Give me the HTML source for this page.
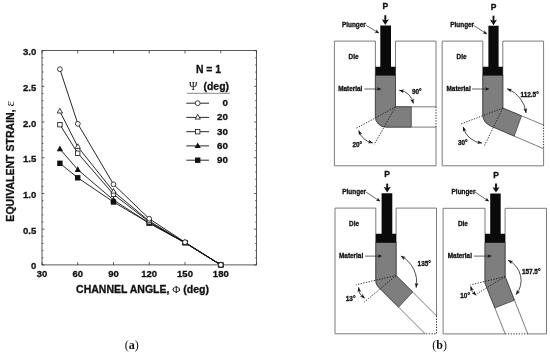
<!DOCTYPE html><html><head><meta charset="utf-8"><title>Figure</title><style>html,body{margin:0;padding:0;background:#fff}svg{display:block}text{font-family:"Liberation Sans",Arial,Helvetica,sans-serif;font-weight:bold;fill:#111;stroke:#111;stroke-width:0.3px}.s{stroke:none;font-family:"Liberation Serif","Times New Roman",serif;font-weight:normal}</style></head><body>
<svg width="550" height="355" viewBox="0 0 550 355">
<rect width="550" height="355" fill="#fff"/>
<g id="plot" stroke="#333" stroke-width="0.8" fill="none">
<rect x="42.0" y="50.6" width="214.5" height="214.3"/>
<path d="M42.0 264.90h2.4M256.5 264.90h-2.4M42.0 257.76h1.3M256.5 257.76h-1.3M42.0 250.61h1.3M256.5 250.61h-1.3M42.0 243.47h1.3M256.5 243.47h-1.3M42.0 236.33h1.3M256.5 236.33h-1.3M42.0 229.18h2.4M256.5 229.18h-2.4M42.0 222.04h1.3M256.5 222.04h-1.3M42.0 214.90h1.3M256.5 214.90h-1.3M42.0 207.75h1.3M256.5 207.75h-1.3M42.0 200.61h1.3M256.5 200.61h-1.3M42.0 193.47h2.4M256.5 193.47h-2.4M42.0 186.32h1.3M256.5 186.32h-1.3M42.0 179.18h1.3M256.5 179.18h-1.3M42.0 172.04h1.3M256.5 172.04h-1.3M42.0 164.89h1.3M256.5 164.89h-1.3M42.0 157.75h2.4M256.5 157.75h-2.4M42.0 150.61h1.3M256.5 150.61h-1.3M42.0 143.46h1.3M256.5 143.46h-1.3M42.0 136.32h1.3M256.5 136.32h-1.3M42.0 129.18h1.3M256.5 129.18h-1.3M42.0 122.03h2.4M256.5 122.03h-2.4M42.0 114.89h1.3M256.5 114.89h-1.3M42.0 107.75h1.3M256.5 107.75h-1.3M42.0 100.60h1.3M256.5 100.60h-1.3M42.0 93.46h1.3M256.5 93.46h-1.3M42.0 86.32h2.4M256.5 86.32h-2.4M42.0 79.17h1.3M256.5 79.17h-1.3M42.0 72.03h1.3M256.5 72.03h-1.3M42.0 64.89h1.3M256.5 64.89h-1.3M42.0 57.74h1.3M256.5 57.74h-1.3M42.0 50.60h2.4M256.5 50.60h-2.4M42.00 264.9v-2.8M42.00 50.6v2.8M77.75 264.9v-2.8M77.75 50.6v2.8M113.50 264.9v-2.8M113.50 50.6v2.8M149.25 264.9v-2.8M149.25 50.6v2.8M185.00 264.9v-2.8M185.00 50.6v2.8M220.75 264.9v-2.8M220.75 50.6v2.8M256.50 264.9v-2.8M256.50 50.6v2.8" stroke-width="0.8"/>
</g>
<text x="36.2" y="269.4" font-size="9.5" text-anchor="end">0</text>
<text x="36.2" y="233.7" font-size="9.5" text-anchor="end">0.5</text>
<text x="36.2" y="198.0" font-size="9.5" text-anchor="end">1.0</text>
<text x="36.2" y="162.2" font-size="9.5" text-anchor="end">1.5</text>
<text x="36.2" y="126.5" font-size="9.5" text-anchor="end">2.0</text>
<text x="36.2" y="90.8" font-size="9.5" text-anchor="end">2.5</text>
<text x="36.2" y="55.1" font-size="9.5" text-anchor="end">3.0</text>
<text x="42.0" y="277.3" font-size="9.5" text-anchor="middle">30</text>
<text x="77.8" y="277.3" font-size="9.5" text-anchor="middle">60</text>
<text x="113.5" y="277.3" font-size="9.5" text-anchor="middle">90</text>
<text x="149.2" y="277.3" font-size="9.5" text-anchor="middle">120</text>
<text x="185.0" y="277.3" font-size="9.5" text-anchor="middle">150</text>
<text x="220.8" y="277.3" font-size="9.5" text-anchor="middle">180</text>
<text x="142.5" y="292.6" font-size="10.5" text-anchor="middle">CHANNEL ANGLE, <tspan class="s" font-size="11">Φ</tspan> (deg)</text>
<text transform="translate(14.3 161.3) rotate(-90)" font-size="10.55" text-anchor="middle">EQUIVALENT STRAIN, <tspan class="s" font-size="13" font-weight="bold">ε</tspan></text>
<polyline fill="none" stroke="#111" stroke-width="0.9" points="59.9,163.3 77.8,177.8 113.5,202.0 149.2,223.1 185.0,242.7 220.8,264.9"/>
<rect x="57.2" y="160.6" width="5.4" height="5.4" fill="#111"/>
<rect x="75.0" y="175.1" width="5.4" height="5.4" fill="#111"/>
<rect x="110.8" y="199.3" width="5.4" height="5.4" fill="#111"/>
<rect x="146.6" y="220.4" width="5.4" height="5.4" fill="#111"/>
<rect x="182.3" y="240.0" width="5.4" height="5.4" fill="#111"/>
<rect x="218.1" y="262.2" width="5.4" height="5.4" fill="#111"/>
<polyline fill="none" stroke="#111" stroke-width="0.9" points="59.9,149.0 77.8,169.7 113.5,200.0 149.2,223.1 185.0,242.7 220.8,264.9"/>
<path d="M59.9 145.6l3.1 5.6h-6.2z" fill="#111"/>
<path d="M77.8 166.3l3.1 5.6h-6.2z" fill="#111"/>
<path d="M113.5 196.6l3.1 5.6h-6.2z" fill="#111"/>
<path d="M149.2 219.7l3.1 5.6h-6.2z" fill="#111"/>
<path d="M185.0 239.3l3.1 5.6h-6.2z" fill="#111"/>
<path d="M220.8 261.5l3.1 5.6h-6.2z" fill="#111"/>
<polyline fill="none" stroke="#111" stroke-width="0.9" points="59.9,124.7 77.8,153.2 113.5,194.3 149.2,221.9 185.0,242.7 220.8,264.9"/>
<rect x="57.7" y="122.5" width="4.4" height="4.4" fill="#fff" stroke="#111" stroke-width="0.8"/>
<rect x="75.5" y="151.0" width="4.4" height="4.4" fill="#fff" stroke="#111" stroke-width="0.8"/>
<rect x="111.3" y="192.1" width="4.4" height="4.4" fill="#fff" stroke="#111" stroke-width="0.8"/>
<rect x="147.1" y="219.7" width="4.4" height="4.4" fill="#fff" stroke="#111" stroke-width="0.8"/>
<rect x="182.8" y="240.5" width="4.4" height="4.4" fill="#fff" stroke="#111" stroke-width="0.8"/>
<rect x="218.6" y="262.7" width="4.4" height="4.4" fill="#fff" stroke="#111" stroke-width="0.8"/>
<polyline fill="none" stroke="#111" stroke-width="0.9" points="59.9,111.3 77.8,146.8 113.5,191.5 149.2,221.0 185.0,242.7 220.8,264.9"/>
<path d="M59.9 108.3l2.6 4.7h-5.2z" fill="#fff" stroke="#111" stroke-width="0.8"/>
<path d="M77.8 143.8l2.6 4.7h-5.2z" fill="#fff" stroke="#111" stroke-width="0.8"/>
<path d="M113.5 188.5l2.6 4.7h-5.2z" fill="#fff" stroke="#111" stroke-width="0.8"/>
<path d="M149.2 218.0l2.6 4.7h-5.2z" fill="#fff" stroke="#111" stroke-width="0.8"/>
<path d="M185.0 239.7l2.6 4.7h-5.2z" fill="#fff" stroke="#111" stroke-width="0.8"/>
<path d="M220.8 261.9l2.6 4.7h-5.2z" fill="#fff" stroke="#111" stroke-width="0.8"/>
<polyline fill="none" stroke="#111" stroke-width="0.9" points="59.9,69.2 77.8,123.8 113.5,184.3 149.2,218.7 185.0,242.2 220.8,264.9"/>
<circle cx="59.9" cy="69.2" r="2.4" fill="#fff" stroke="#111" stroke-width="0.8"/>
<circle cx="77.8" cy="123.8" r="2.4" fill="#fff" stroke="#111" stroke-width="0.8"/>
<circle cx="113.5" cy="184.3" r="2.4" fill="#fff" stroke="#111" stroke-width="0.8"/>
<circle cx="149.2" cy="218.7" r="2.4" fill="#fff" stroke="#111" stroke-width="0.8"/>
<circle cx="185.0" cy="242.2" r="2.4" fill="#fff" stroke="#111" stroke-width="0.8"/>
<circle cx="220.8" cy="264.9" r="2.4" fill="#fff" stroke="#111" stroke-width="0.8"/>
<text x="208.5" y="73.2" font-size="10.4" text-anchor="middle">N = 1</text>
<text x="209" y="89.6" font-size="10.4" text-anchor="middle"><tspan class="s" font-size="11.5" font-weight="bold">Ψ</tspan><tspan dx="6">(deg)</tspan></text>
<path d="M186.8 93.3H230" stroke="#888" stroke-width="1"/>
<path d="M186.3 103.2H209" stroke="#111" stroke-width="0.9"/>
<circle cx="197.7" cy="103.2" r="2.4" fill="#fff" stroke="#111" stroke-width="0.8"/>
<text x="228" y="106.2" font-size="9.8" text-anchor="end">0</text>
<path d="M186.3 117.4H209" stroke="#111" stroke-width="0.9"/>
<path d="M197.7 114.4l2.6 4.7h-5.2z" fill="#fff" stroke="#111" stroke-width="0.8"/>
<text x="228" y="120.4" font-size="9.8" text-anchor="end">20</text>
<path d="M186.3 131.7H209" stroke="#111" stroke-width="0.9"/>
<rect x="195.5" y="129.5" width="4.4" height="4.4" fill="#fff" stroke="#111" stroke-width="0.8"/>
<text x="228" y="134.7" font-size="9.8" text-anchor="end">30</text>
<path d="M186.3 145.9H209" stroke="#111" stroke-width="0.9"/>
<path d="M197.7 142.5l3.1 5.6h-6.2z" fill="#111"/>
<text x="228" y="148.9" font-size="9.8" text-anchor="end">60</text>
<path d="M186.3 160.2H209" stroke="#111" stroke-width="0.9"/>
<rect x="195.0" y="157.5" width="5.4" height="5.4" fill="#111"/>
<text x="228" y="163.2" font-size="9.8" text-anchor="end">90</text>
<text class="s" x="131.7" y="348.7" font-size="12" text-anchor="middle">(<tspan font-weight="bold">a</tspan>)</text>
<text class="s" x="439.7" y="348.5" font-size="12" text-anchor="middle">(<tspan font-weight="bold">b</tspan>)</text>
<path d="M375.4 41.1H334.4V165.8H436.0V127.1H385.9A10.5 10.5 0 0 1 375.4 116.6z" fill="none" stroke="#5a5a5a" stroke-width="0.8" stroke-linejoin="miter"/>
<path d="M395.5 41.1H436.0V106.8H395.5z" fill="none" stroke="#5a5a5a" stroke-width="0.8" stroke-linejoin="miter"/>
<path d="M375.4 75H395.5V106.8H411.3V127.1H385.9A10.5 10.5 0 0 1 375.4 116.6z" fill="#7e7e7e" stroke="#333" stroke-width="0.7"/>
<path d="M380.3 25.5H391V66.8H395.5V75.5H375.4V66.8H380.3z" fill="#0a0a0a"/>
<path d="M436.0 106.8V127.1" fill="none" stroke="#1a1a1a" stroke-width="0.9" stroke-dasharray="1.3 1.4"/>
<path d="M395.5 106.8L356.5 128.2M395.5 106.8L374.1 144.6" fill="none" stroke="#1a1a1a" stroke-width="0.9" stroke-dasharray="1.3 1.4"/>
<text x="385.3" y="9.2" font-size="8.5" text-anchor="middle">P</text><path d="M385.3 15.2V22.3" stroke="#111" stroke-width="1.9"/><path d="M385.3 24.900000000000002l-3.6 -5.6l3.6 1.3l3.6 -1.3z" fill="#111"/>
<text x="342" y="26.8" font-size="6.4" text-anchor="start">Plunger</text>
<path d="M365.8 25.2L377.6 32.2" stroke="#222" stroke-width="0.7"/><path d="M379.3 33.2L374.4 32.4L376.5 31.5L376.3 29.3z" fill="#111"/>
<text x="348.6" y="59.0" font-size="6.4" text-anchor="start">Die</text>
<text x="338.2" y="91.4" font-size="6.4" text-anchor="start">Material</text>
<path d="M364.3 89L379.5 89.0" stroke="#222" stroke-width="0.7"/><path d="M381.5 89.0L376.9 90.8L378.2 89.0L376.9 87.2z" fill="#111"/>
<text x="352.4" y="146.7" font-size="6.4" text-anchor="start">20°</text>
<text x="412" y="94.2" font-size="6.4" text-anchor="start">90°</text>
<path d="M358.6 130.4A19.0 19.0 0 0 0 372.8 143.1" fill="none" stroke="#222" stroke-width="0.8"/><path d="M358.6 130.4L362.4 133.9L360.1 133.5L358.9 135.6z" fill="#111"/><path d="M372.8 143.1L367.6 143.3L369.5 142.0L368.9 139.7z" fill="#111"/>
<path d="M399.2 90.2A15.8 15.8 0 0 1 413.4 103.5" fill="none" stroke="#222" stroke-width="0.8"/><path d="M399.2 90.2L404.3 89.5L402.6 91.0L403.4 93.2z" fill="#111"/><path d="M413.4 103.5L410.1 99.5L412.4 100.2L413.8 98.4z" fill="#111"/>
<path d="M482.8 41.1H442.2V165.8H543.6V148.7L491 126.1Q482.8 122.6 482.8 114.4z" fill="none" stroke="#5a5a5a" stroke-width="0.8" stroke-linejoin="miter"/>
<path d="M502.8 41.1H543.6V125.0L502.8 108.1z" fill="none" stroke="#5a5a5a" stroke-width="0.8" stroke-linejoin="miter"/>
<path d="M482.8 75H502.8V108.1L521.5 115.8L514.2 136.1L491 126.1Q482.8 122.6 482.8 114.4z" fill="#7e7e7e" stroke="#333" stroke-width="0.7"/>
<path d="M488.4 25.8H498.6V66.8H502.8V75.5H482.8V66.8H488.4z" fill="#0a0a0a"/>
<path d="M543.6 125.0V148.7" fill="none" stroke="#1a1a1a" stroke-width="0.9" stroke-dasharray="1.3 1.4"/>
<path d="M502.8 108.1L460.8 124M502.8 108.1L484.5 145.5" fill="none" stroke="#1a1a1a" stroke-width="0.9" stroke-dasharray="1.3 1.4"/>
<text x="493.5" y="10.2" font-size="8.5" text-anchor="middle">P</text><path d="M493.5 15.7V22.6" stroke="#111" stroke-width="1.9"/><path d="M493.5 25.200000000000003l-3.6 -5.6l3.6 1.3l3.6 -1.3z" fill="#111"/>
<text x="450.3" y="26.8" font-size="6.4" text-anchor="start">Plunger</text>
<path d="M473.3 25.2L485.6 33.2" stroke="#222" stroke-width="0.7"/><path d="M487.3 34.3L482.5 33.3L484.5 32.5L484.4 30.3z" fill="#111"/>
<text x="456.6" y="59.0" font-size="6.4" text-anchor="start">Die</text>
<text x="446.5" y="91.4" font-size="6.4" text-anchor="start">Material</text>
<path d="M472 89L487.6 89.0" stroke="#222" stroke-width="0.7"/><path d="M489.6 89.0L485.0 90.8L486.3 89.0L485.0 87.2z" fill="#111"/>
<text x="458" y="145.2" font-size="6.4" text-anchor="start">30°</text>
<text x="520.5" y="96.6" font-size="6.4" text-anchor="start">112.5°</text>
<path d="M463.1 126.8A20.8 20.8 0 0 0 482.1 143.1" fill="none" stroke="#222" stroke-width="0.8"/><path d="M463.1 126.8L466.5 130.7L464.2 130.1L462.9 132.0z" fill="#111"/><path d="M482.1 143.1L477.0 144.1L478.7 142.5L477.7 140.4z" fill="#111"/>
<path d="M507.1 88.7A29.2 29.2 0 0 1 526.1 113.0" fill="none" stroke="#222" stroke-width="0.8"/><path d="M507.1 88.7L512.3 89.0L510.2 90.1L510.7 92.4z" fill="#111"/><path d="M526.1 113.0L523.3 108.6L525.5 109.6L527.1 107.9z" fill="#111"/>
<path d="M375.8 208.1H335.0V333.8H425.2L378.2 286.8Q375.8 284.4 375.8 280.5z" fill="none" stroke="#5a5a5a" stroke-width="0.8" stroke-linejoin="miter"/>
<path d="M396.1 208.1H436.5V315.9L396.1 275.5z" fill="none" stroke="#5a5a5a" stroke-width="0.8" stroke-linejoin="miter"/>
<path d="M375.8 242.3H396.1V275.5L412.6 292.0L398.6 307.2L378.2 286.8Q375.8 284.4 375.8 280.5z" fill="#7e7e7e" stroke="#333" stroke-width="0.7"/>
<path d="M381.6 193.2H392.3V233.8H396.1V242.7H375.8V233.8H381.6z" fill="#0a0a0a"/>
<path d="M436.5 315.9V333.8H425.2" fill="none" stroke="#1a1a1a" stroke-width="0.9" stroke-dasharray="1.3 1.4"/>
<path d="M396.1 275.5L355.8 284.8M396.1 275.5L364.3 302.1" fill="none" stroke="#1a1a1a" stroke-width="0.9" stroke-dasharray="1.3 1.4"/>
<text x="387.2" y="177.2" font-size="8.5" text-anchor="middle">P</text><path d="M387.2 183.6V189.8" stroke="#111" stroke-width="1.9"/><path d="M387.2 192.4l-3.6 -5.6l3.6 1.3l3.6 -1.3z" fill="#111"/>
<text x="342.3" y="193.7" font-size="6.4" text-anchor="start">Plunger</text>
<path d="M366 192L378.8 200.5" stroke="#222" stroke-width="0.7"/><path d="M380.5 201.6L375.7 200.6L377.7 199.8L377.7 197.6z" fill="#111"/>
<text x="349.1" y="225.8" font-size="6.4" text-anchor="start">Die</text>
<text x="339" y="258" font-size="6.4" text-anchor="start">Material</text>
<path d="M365 256.1L380.3 256.1" stroke="#222" stroke-width="0.7"/><path d="M382.3 256.1L377.7 257.9L379.0 256.1L377.7 254.3z" fill="#111"/>
<text x="345.8" y="300.9" font-size="6.4" text-anchor="start">13°</text>
<text x="417.6" y="266.3" font-size="6.4" text-anchor="start">135°</text>
<path d="M358.6 287.3A11.9 11.9 0 0 0 364.9 298.3" fill="none" stroke="#222" stroke-width="0.8"/><path d="M358.6 287.3L361.2 291.7L359.1 290.7L357.5 292.3z" fill="#111"/><path d="M364.9 298.3L360.0 296.7L362.2 296.1L362.4 293.8z" fill="#111"/>
<path d="M400.9 256.0A29.4 29.4 0 0 1 416.1 287.7" fill="none" stroke="#222" stroke-width="0.8"/><path d="M400.9 256.0L406.0 257.0L403.8 257.8L403.9 260.2z" fill="#111"/><path d="M416.1 287.7L414.8 282.7L416.5 284.3L418.5 283.1z" fill="#111"/>
<path d="M485.0 208.3H443.1V333.9H505.2L485.0 283z" fill="none" stroke="#5a5a5a" stroke-width="0.8" stroke-linejoin="miter"/>
<path d="M505.1 208.3H546.5V333.9H527.8L505.1 276.6z" fill="none" stroke="#5a5a5a" stroke-width="0.8" stroke-linejoin="miter"/>
<path d="M485.0 242.3H505.1V276.6L514.4 300.2L494.9 307.9L485.0 283z" fill="#7e7e7e" stroke="#333" stroke-width="0.7"/>
<path d="M490.2 193.5H500.7V233.8H505.1V242.7H485.0V233.8H490.2z" fill="#0a0a0a"/>
<path d="M505.2 333.9H527.8" fill="none" stroke="#1a1a1a" stroke-width="0.9" stroke-dasharray="1.3 1.4"/>
<path d="M505.1 276.6L470.3 284.9M505.1 276.6L477 293.8" fill="none" stroke="#1a1a1a" stroke-width="0.9" stroke-dasharray="1.3 1.4"/>
<text x="496" y="177.8" font-size="8.5" text-anchor="middle">P</text><path d="M496 183.6V189.9" stroke="#111" stroke-width="1.9"/><path d="M496 192.5l-3.6 -5.6l3.6 1.3l3.6 -1.3z" fill="#111"/>
<text x="451.6" y="193.7" font-size="6.4" text-anchor="start">Plunger</text>
<path d="M475 192L487.6 200.5" stroke="#222" stroke-width="0.7"/><path d="M489.3 201.6L484.5 200.5L486.6 199.8L486.5 197.5z" fill="#111"/>
<text x="457.9" y="225.8" font-size="6.4" text-anchor="start">Die</text>
<text x="447.8" y="258" font-size="6.4" text-anchor="start">Material</text>
<path d="M474 256.1L489.9 256.1" stroke="#222" stroke-width="0.7"/><path d="M491.9 256.1L487.3 257.9L488.6 256.1L487.3 254.3z" fill="#111"/>
<text x="460.3" y="298.4" font-size="6.4" text-anchor="start">10°</text>
<text x="521.9" y="273.9" font-size="6.4" text-anchor="start">157.5°</text>
<path d="M470.7 286.2A11.4 11.4 0 0 0 476.4 295.3" fill="none" stroke="#222" stroke-width="0.8"/><path d="M470.7 286.2L473.9 290.3L471.7 289.5L470.2 291.3z" fill="#111"/><path d="M476.4 295.3L471.6 293.5L473.8 293.0L474.1 290.7z" fill="#111"/>
<path d="M508.1 260.2A22.3 22.3 0 0 1 516.0 294.7" fill="none" stroke="#222" stroke-width="0.8"/><path d="M508.1 260.2L513.2 261.0L511.1 262.0L511.3 264.3z" fill="#111"/><path d="M516.0 294.7L517.1 289.6L517.9 291.8L520.2 291.7z" fill="#111"/>
</svg></body></html>
